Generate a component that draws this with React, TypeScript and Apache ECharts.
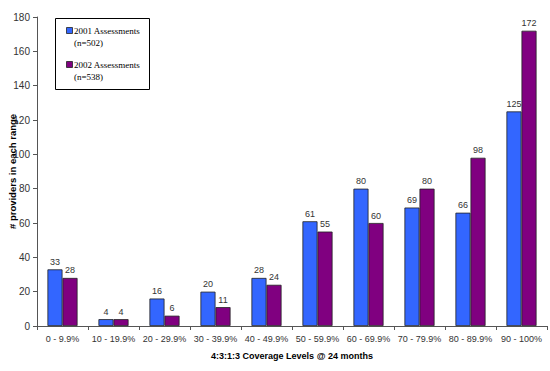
import React, { useEffect, useRef } from "react";
import * as echarts from "echarts";

const categories = ["0 - 9.9%", "10 - 19.9%", "20 - 29.9%", "30 - 39.9%", "40 - 49.9%", "50 - 59.9%", "60 - 69.9%", "70 - 79.9%", "80 - 89.9%", "90 - 100%"];
const values2001 = [33, 4, 16, 20, 28, 61, 80, 69, 66, 125];
const values2002 = [28, 4, 6, 11, 24, 55, 60, 80, 98, 172];
const seriesNames = ["2001 Assessments", "2002 Assessments"];
const seriesNotes = ["(n=502)", "(n=538)"];
const seriesColors = ["#3366FF", "#800080"];

export default function App() {
  const ref = useRef<HTMLDivElement>(null);
  useEffect(() => {
    const chart = echarts.init(ref.current!, null, { renderer: "svg" });
    const font = "'Liberation Sans', Arial, sans-serif";
    const serif = "'Liberation Serif', 'Times New Roman', serif";
    const labelStyle = { show: true, position: "top", distance: 3, fontSize: 9, color: "#333", fontFamily: font };

    const legendChildren: any[] = [
      { type: "rect", shape: { x: 55.5, y: 18.5, width: 94, height: 71 }, style: { fill: "#fff", stroke: "#000", lineWidth: 1 } },
    ];
    const rowY = [31, 65];
    seriesNames.forEach((name, i) => {
      const cy = rowY[i];
      legendChildren.push(
        { type: "rect", shape: { x: 66.5, y: cy - 3.5, width: 6, height: 6 }, style: { fill: seriesColors[i], stroke: "#222", lineWidth: 0.8 } },
        { type: "text", x: 74, y: cy, style: { text: name, font: `9px ${serif}`, fill: "#000", verticalAlign: "middle", align: "left" } },
        { type: "text", x: 74, y: cy + 12, style: { text: seriesNotes[i], font: `9px ${serif}`, fill: "#000", verticalAlign: "middle", align: "left" } }
      );
    });

    chart.setOption({
      animation: false,
      backgroundColor: "#fff",
      textStyle: { fontFamily: font },
      grid: { left: 37, right: 3, top: 17, bottom: 45, containLabel: false, outerBoundsMode: "none" },
      graphic: legendChildren,
      xAxis: {
        type: "category",
        data: categories,
        name: "4:3:1:3 Coverage Levels @ 24 months",
        nameLocation: "middle",
        nameGap: 25,
        nameMoveOverlap: false,
        nameTextStyle: { fontWeight: "bold", fontSize: 9, color: "#000", fontFamily: font },
        axisLine: { lineStyle: { color: "#555", width: 1 } },
        axisTick: { show: true, length: 4, alignWithLabel: false, lineStyle: { color: "#555" } },
        axisLabel: { fontSize: 9, color: "#333", margin: 8, interval: 0 },
      },
      yAxis: {
        type: "value",
        min: 0,
        max: 180,
        interval: 20,
        name: "# providers in each range",
        nameLocation: "middle",
        nameGap: 20,
        nameMoveOverlap: false,
        nameTextStyle: { fontWeight: "bold", fontSize: 9.5, color: "#000", fontFamily: font },
        axisLine: { show: true, lineStyle: { color: "#555", width: 1 } },
        axisTick: { show: true, length: 4, lineStyle: { color: "#555" } },
        axisLabel: { fontSize: 10, color: "#333", margin: 7 },
        splitLine: { show: false },
      },
      series: [
        {
          name: seriesNames[0],
          type: "bar",
          data: values2001,
          barGap: "0%",
          barCategoryGap: "41%",
          itemStyle: { color: seriesColors[0], borderColor: "#222", borderWidth: 0.8 },
          label: labelStyle,
        },
        {
          name: seriesNames[1],
          type: "bar",
          data: values2002,
          barGap: "0%",
          barCategoryGap: "41%",
          itemStyle: { color: seriesColors[1], borderColor: "#222", borderWidth: 0.8 },
          label: labelStyle,
        },
      ],
    });
    return () => chart.dispose();
  }, []);
  return <div ref={ref} style={{ width: 550, height: 371, position: "absolute", left: 0, top: 0 }} />;
}
